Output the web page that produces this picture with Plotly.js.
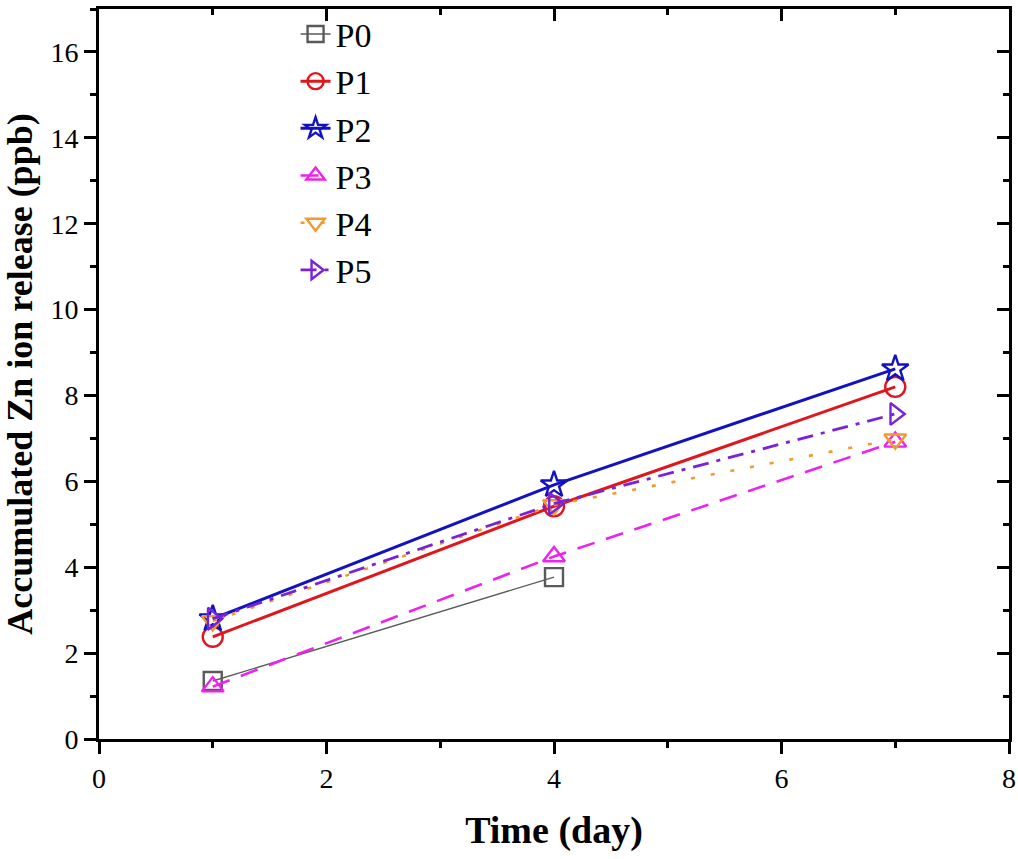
<!DOCTYPE html>
<html>
<head>
<meta charset="utf-8">
<script src="https://cdn.plot.ly/plotly-3.0.1.min.js"></script>
<style>html,body{margin:0;padding:0;background:#fff}#chart{width:1018px;height:859px}</style>
</head>
<body>
<div id="chart"></div>
<script>
var days = [1, 4, 7];
var seriesNames = ["P0", "P1", "P2", "P3", "P4", "P5"];
var P0 = [1.35, 3.77];
var P1 = [2.38, 5.42, 8.2];
var P2 = [2.8, 5.92, 8.62];
var P3 = [1.22, 4.25, 6.92];
var P4 = [2.75, 5.45, 6.98];
var P5 = [2.8, 5.48, 7.57];
var xTicks = [0, 2, 4, 6, 8];
var yTicks = [0, 2, 4, 6, 8, 10, 12, 14, 16];

var styles = [
  {color: "#5a5a5a", dash: "solid", width: 1.4, symbol: "square-open", size: 18},
  {color: "#e0161c", dash: "solid", width: 3, symbol: "circle-open", size: 20},
  {color: "#1212c0", dash: "solid", width: 3, symbol: "star-open", size: 20},
  {color: "#ee22ee", dash: "18px,12px", width: 2.6, symbol: "triangle-up-open", size: 19},
  {color: "#f09a30", dash: "4px,16px", width: 2.6, symbol: "triangle-down-open", size: 19},
  {color: "#7a22d8", dash: "16px,8px,4px,8px", width: 2.8, symbol: "triangle-right-open", size: 19}
];
var values = [P0, P1, P2, P3, P4, P5];

var traces = values.map(function (v, i) {
  var s = styles[i];
  return {
    x: days.slice(0, v.length), y: v, name: seriesNames[i],
    type: "scatter", mode: "lines+markers",
    line: {color: s.color, dash: s.dash, width: s.width},
    marker: {symbol: s.symbol, size: s.size, color: s.color, line: {color: s.color, width: 2.4}}
  };
});
traces.push({x: [], y: [], xaxis: "x2", yaxis: "y2", showlegend: false, hoverinfo: "skip", type: "scatter"});

var font = "Liberation Serif";
var layout = {
  width: 1018, height: 859,
  margin: {l: 99, r: 9, t: 5, b: 120},
  paper_bgcolor: "#fff", plot_bgcolor: "#fff",
  font: {family: font, color: "#000"},
  showlegend: true,
  legend: {x: 0.216, y: 1.005, xanchor: "left", yanchor: "top", bgcolor: "rgba(0,0,0,0)",
    font: {family: font, size: 34, color: "#000"}, tracegroupgap: 0},
  xaxis: {
    range: [0, 8], tickvals: xTicks, ticktext: xTicks.map(String),
    showgrid: false, zeroline: false, showline: true, linecolor: "#000", linewidth: 3,
    ticks: "outside", ticklen: 12, tickwidth: 3, tickcolor: "#000",
    minor: {dtick: 1, ticks: "outside", ticklen: 6, tickwidth: 3, tickcolor: "#000"},
    tickfont: {family: font, size: 28, color: "#000"},
    title: {text: "<b>Time (day)</b>", font: {family: font, size: 38, color: "#000"}, standoff: 24}
  },
  yaxis: {
    range: [0, 17], tickvals: yTicks, ticktext: yTicks.map(String),
    showgrid: false, zeroline: false, showline: true, linecolor: "#000", linewidth: 3,
    ticks: "outside", ticklen: 12, tickwidth: 3, tickcolor: "#000",
    minor: {dtick: 1, ticks: "outside", ticklen: 6, tickwidth: 3, tickcolor: "#000"},
    tickfont: {family: font, size: 28, color: "#000"},
    title: {text: "<b>Accumulated Zn ion release (ppb)</b>", font: {family: font, size: 36, color: "#000"}, standoff: 10}
  },
  xaxis2: {
    overlaying: "x", side: "top", range: [0, 8], tickvals: xTicks, showticklabels: false,
    showgrid: false, zeroline: false, showline: true, linecolor: "#000", linewidth: 3,
    ticks: "inside", ticklen: 12, tickwidth: 3, tickcolor: "#000",
    minor: {dtick: 1, ticks: "inside", ticklen: 6, tickwidth: 3, tickcolor: "#000"}
  },
  yaxis2: {
    overlaying: "y", side: "right", range: [0, 17], tickvals: yTicks, showticklabels: false,
    showgrid: false, zeroline: false, showline: true, linecolor: "#000", linewidth: 3,
    ticks: "inside", ticklen: 12, tickwidth: 3, tickcolor: "#000",
    minor: {dtick: 1, ticks: "inside", ticklen: 6, tickwidth: 3, tickcolor: "#000"}
  }
};
Plotly.newPlot("chart", traces, layout, {displayModeBar: false, staticPlot: true});
</script>
</body>
</html>
